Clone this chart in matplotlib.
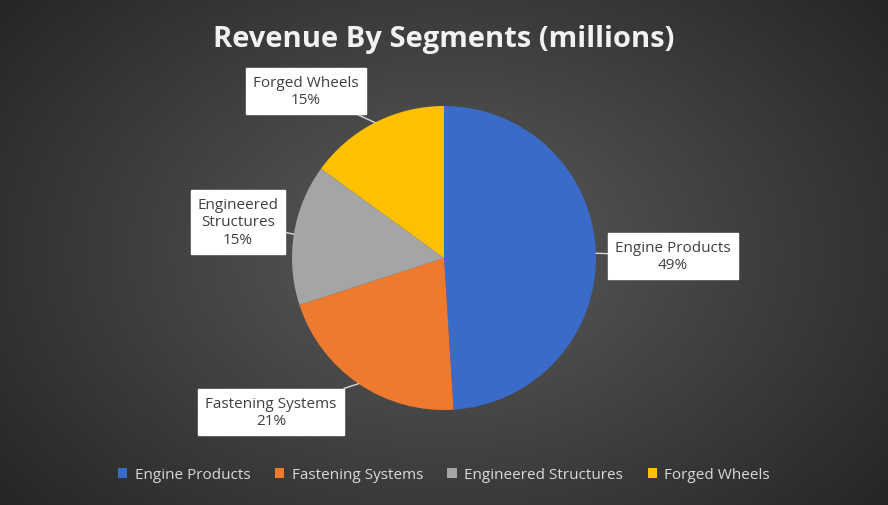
import numpy as np
import matplotlib.pyplot as plt

categories = ["Engine Products", "Fastening Systems", "Engineered Structures", "Forged Wheels"]
values = [49, 21, 15, 15]
labels = ["Engine Products\n49%", "Fastening Systems\n21%", "Engineered\nStructures\n15%", "Forged Wheels\n15%"]
colors = ["#3A6BC9", "#EE7A30", "#A5A5A5", "#FFC000"]
label_pos = [(673, 257), (271, 413), (238, 223), (306, 92)]  # pixel coords

W, H = 888, 506
fig = plt.figure(figsize=(W/100, H/100), dpi=100)
ax = fig.add_axes([0, 0, 1, 1])
ax.set_xlim(0, W); ax.set_ylim(0, H); ax.axis('off')

# radial gradient background
yy, xx = np.mgrid[0:H, 0:W]
r = np.sqrt(((xx - W/2)/(W*0.6))**2 + ((yy - H/2)/(H*0.75))**2)
v = np.clip(0.36 - 0.2*r, 0.14, 0.36)
ax.imshow(np.dstack([v, v, v]), extent=[0, W, 0, H], origin='lower', zorder=0, aspect='auto')

cx, cy, R = 444, H - 259, 152
wedges, _ = ax.pie(values, colors=colors, startangle=90, counterclock=False,
                   center=(cx, cy), radius=R, frame=True,
                   wedgeprops=dict(linewidth=0))
ax.set_xlim(0, W); ax.set_ylim(0, H); ax.axis('off')

for w, lab, (px, py) in zip(wedges, labels, label_pos):
    th = np.deg2rad((w.theta1 + w.theta2) / 2)
    ex, ey = cx + R*np.cos(th), cy + R*np.sin(th)
    ax.annotate(lab, xy=(ex, ey), xytext=(px, H - py), ha='center', va='center',
                fontsize=11, color='#404040', family='Open Sans', linespacing=1.25,
                bbox=dict(boxstyle='square,pad=0.45', fc='white', ec='white'),
                arrowprops=dict(arrowstyle='-', color='#D9D9D9', lw=1, shrinkA=0, shrinkB=0),
                zorder=5)

fig.text(0.5, 1 - 40/H, "Revenue By Segments (millions)", ha='center', va='center',
         fontsize=21, fontweight='bold', color='#F2F2F2', family='Open Sans')

handles = [plt.Rectangle((0, 0), 1, 1, fc=c) for c in colors]
fig.legend(handles, categories, loc='center', bbox_to_anchor=(0.5, 1 - 476/H), ncol=4,
           frameon=False, handlelength=0.6, handleheight=0.6, handletextpad=0.5,
           columnspacing=1.6, prop=dict(family='Open Sans', size=11), labelcolor='#D9D9D9')

fig.savefig("out.png", dpi=100)
